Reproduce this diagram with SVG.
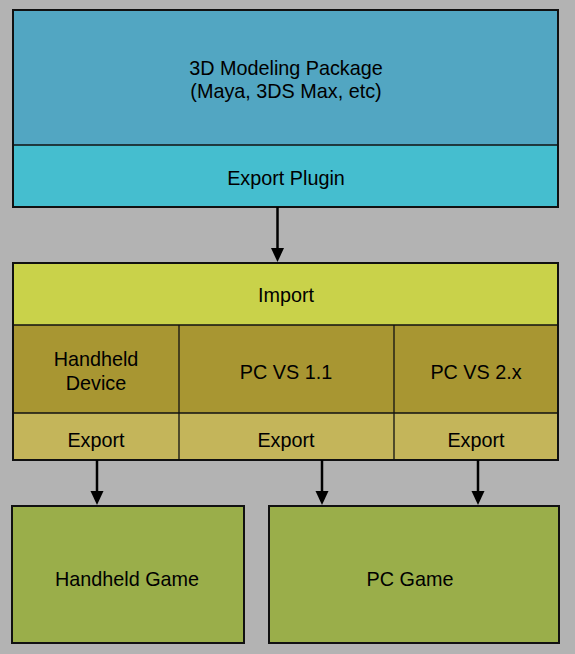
<svg xmlns="http://www.w3.org/2000/svg" width="575" height="654" viewBox="0 0 575 654">
<style>
.b{stroke:#111;stroke-width:2}
.d{stroke:#111;stroke-width:1.3;fill:none}
text{font-family:"Liberation Sans",Arial,sans-serif;font-size:19.8px;fill:#000;text-anchor:middle}
.c{stroke:#000;stroke-width:2.5;fill:none}
</style>
<rect width="575" height="654" fill="#b3b3b3"/>
<g id="modeling">
<rect x="13" y="10" width="545" height="135" fill="#52a6c2"/>
<rect x="13" y="145" width="545" height="62" fill="#45becf"/>
<rect x="13" y="10" width="545" height="197" class="b" fill="none"/>
<line x1="13" y1="145" x2="558" y2="145" class="d"/>
<text x="286" y="75">3D Modeling Package</text>
<text x="286" y="98">(Maya, 3DS Max, etc)</text>
<text x="286" y="185">Export Plugin</text>
</g>
<g id="pipeline">
<rect x="13" y="263" width="545" height="62" fill="#c9d24a"/>
<rect x="13" y="325" width="545" height="88" fill="#a89632"/>
<rect x="13" y="413" width="545" height="47" fill="#c4b55a"/>
<rect x="13" y="263" width="545" height="197" class="b" fill="none"/>
<line x1="13" y1="325" x2="558" y2="325" class="d"/>
<line x1="13" y1="413" x2="558" y2="413" class="d"/>
<line x1="179" y1="325" x2="179" y2="460" class="d"/>
<line x1="394" y1="325" x2="394" y2="460" class="d"/>
<text x="286" y="302">Import</text>
<text x="96" y="366">Handheld</text>
<text x="96" y="390">Device</text>
<text x="286" y="379">PC VS 1.1</text>
<text x="476" y="379">PC VS 2.x</text>
<text x="96" y="447">Export</text>
<text x="286" y="447">Export</text>
<text x="476" y="447">Export</text>
</g>
<g id="handheld-game">
<rect x="12" y="506" width="232" height="137" fill="#9aae4a" class="b"/>
<text x="127" y="586">Handheld Game</text>
</g>
<g id="pc-game">
<rect x="269" y="506" width="290" height="137" fill="#9aae4a" class="b"/>
<text x="410" y="586">PC Game</text>
</g>
<g id="connectors">
<line x1="277.5" y1="207" x2="277.5" y2="250" class="c"/>
<path d="M271,248 L284,248 L277.5,262 Z"/>
<line x1="97" y1="460" x2="97" y2="493" class="c"/>
<path d="M90.5,491 L103.5,491 L97,505 Z"/>
<line x1="322" y1="460" x2="322" y2="493" class="c"/>
<path d="M315.5,491 L328.5,491 L322,505 Z"/>
<line x1="478" y1="460" x2="478" y2="493" class="c"/>
<path d="M471.5,491 L484.5,491 L478,505 Z"/>
</g>
</svg>
